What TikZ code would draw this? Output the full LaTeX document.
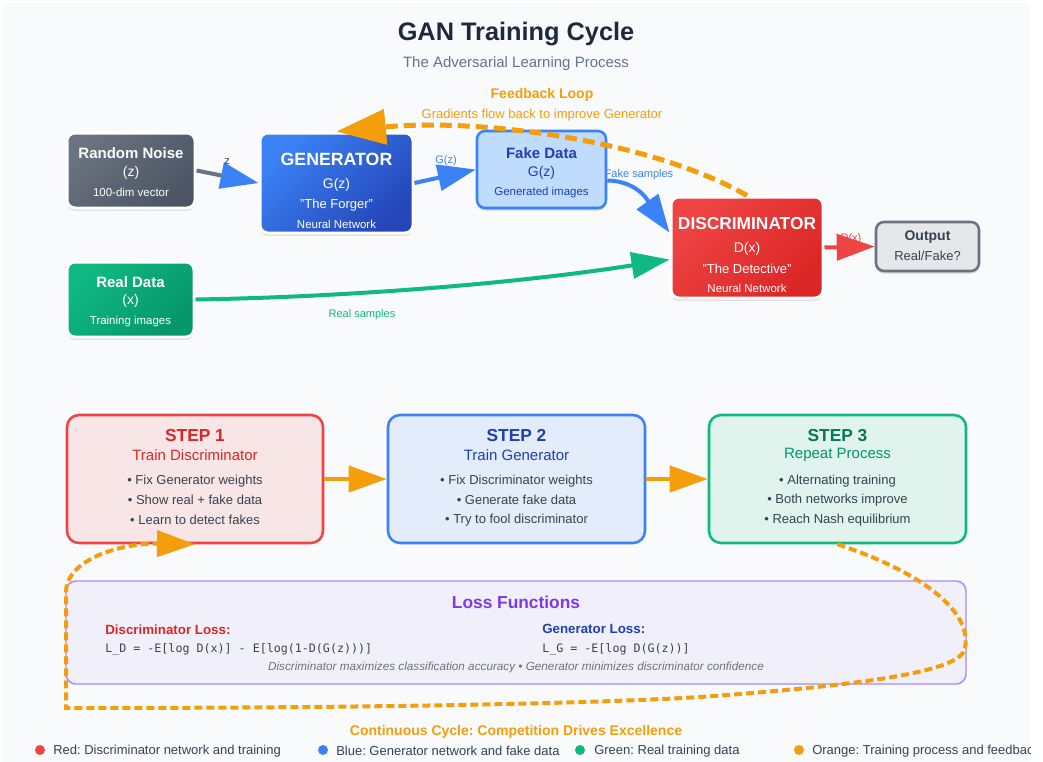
\documentclass[tikz,border=0pt]{standalone}
\usepackage{fontspec}
\setmainfont{Liberation Sans}
\setmonofont{DejaVu Sans Mono}
\usetikzlibrary{arrows.meta,shadows,calc}
\definecolor{cBg}{HTML}{F8FAFC}
\definecolor{cTitle}{HTML}{1E293B}
\definecolor{cSub}{HTML}{64748B}
\definecolor{cNoiseA}{HTML}{6B7280}
\definecolor{cNoiseB}{HTML}{4B5563}
\definecolor{cBlue}{HTML}{3B82F6}
\definecolor{cDBlue}{HTML}{1E40AF}
\definecolor{cGenB}{HTML}{2446B8}
\definecolor{cFake}{HTML}{BFDBFE}
\definecolor{cRed}{HTML}{EF4444}
\definecolor{cDRed}{HTML}{DC2626}
\definecolor{cGreen}{HTML}{10B981}
\definecolor{cDGreen}{HTML}{059669}
\definecolor{cSGreen}{HTML}{047857}
\definecolor{cOrange}{HTML}{F59E0B}
\definecolor{cGray}{HTML}{6B7280}
\definecolor{cOutFill}{HTML}{E5E7EB}
\definecolor{cText}{HTML}{374151}
\definecolor{cS1}{HTML}{F8E6E7}
\definecolor{cS2}{HTML}{E2ECFA}
\definecolor{cS3}{HTML}{E0F3ED}
\definecolor{cLoss}{HTML}{F1F0FA}
\definecolor{cPurple}{HTML}{A78BFA}
\definecolor{cPurpleT}{HTML}{7C3AED}
\newcommand\fz[1]{\fontsize{#1}{#1}\selectfont}
\tikzset{
  txt/.style={inner sep=0pt, anchor=center, yshift=-1pt},
  ltxt/.style={inner sep=0pt, anchor=west, yshift=-1pt},
  shd/.style={drop shadow={shadow xshift=0pt, shadow yshift=-2pt, opacity=0.15, fill=black}},
  wbox/.style={draw=white, line width=2.25pt, rounded corners=6pt, shd},
  cbox/.style={line width=1.9pt, rounded corners=6pt, shd},
  stepbox/.style={line width=1.9pt, rounded corners=9pt},
  conn/.style={line width=3pt},
  tip/.style={-{Triangle[length=28.5pt,width=19.5pt]}},
  bigtip/.style={-{Triangle[length=37pt,width=26pt]}},
  fb/.style={cOrange, line width=3.75pt, dash pattern=on 9pt off 4.5pt},
  cyc/.style={cOrange, line width=3pt, dash pattern=on 6pt off 3pt},
}
\begin{document}
\frenchspacing
\begin{tikzpicture}[x=0.75pt,y=-0.75pt]
\useasboundingbox (0,0) rectangle (1043,761);
\fill[white] (0,0) rectangle (1043,761);
\fill[cBg, rounded corners=6pt] (2,3) rectangle (1030,775);

% title
\node[txt, font=\bfseries\fz{19pt}, text=cTitle] (title) at (516,33) {GAN Training Cycle};
\node[txt, font=\fz{11.25pt}, text=cSub] (subtitle) at (516,62) {The Adversarial Learning Process};
\node[txt, font=\bfseries\fz{10.5pt}, text=cOrange] (fbtitle) at (542,94) {Feedback Loop};
\node[txt, font=\fz{9.75pt}, text=cOrange] (fbsub) at (542,114) {Gradients flow back to improve Generator};

% boxes top
\node[wbox, top color=cNoiseA, bottom color=cNoiseB, shading angle=45, minimum width=96pt, minimum height=56.25pt] (noise) at (131,170.5) {};
\node[wbox, top color=cBlue, bottom color=cGenB, shading angle=45, minimum width=114.75pt, minimum height=75pt] (gen) at (336.5,183) {};
\node[cbox, draw=cBlue, fill=cFake, minimum width=96.75pt, minimum height=57.75pt] (fake) at (541.5,169.5) {};
\node[wbox, top color=cRed, bottom color=cDRed, shading angle=45, minimum width=114pt, minimum height=75.75pt] (disc) at (747,247.5) {};
\node[cbox, draw=cGray, fill=cOutFill, minimum width=77.25pt, minimum height=36.75pt] (out) at (927.5,246.5) {};
\node[wbox, top color=cGreen, bottom color=cDGreen, shading angle=45, minimum width=95.25pt, minimum height=56.25pt] (real) at (130.5,299.5) {};

% steps
\node[stepbox, draw=cRed, fill=cS1, minimum width=192pt, minimum height=96pt] (s1) at (195,479) {};
\node[stepbox, draw=cBlue, fill=cS2, minimum width=192.75pt, minimum height=96pt] (s2) at (516.5,479) {};
\node[stepbox, draw=cGreen, fill=cS3, minimum width=192.75pt, minimum height=96pt] (s3) at (837.5,479) {};

% loss box
\node[draw=cPurple, fill=cLoss, line width=1.1pt, rounded corners=7.5pt, minimum width=675pt, minimum height=77.25pt] (loss) at (516,632.5) {};

% connectors
\draw[conn, cGray, -{Triangle[length=28.5pt,width=19.5pt,color=cBlue,fill=cBlue]}] (noise.east) -- (gen.west);
\draw[conn, cBlue, tip] (gen.east) -- (fake.west);
\draw[conn, cBlue, tip] ($(fake.east)+(0,11)$) .. controls (642,181) and (652,208) .. ($(disc.west)+(0,-15)$);
\draw[conn, cGreen, tip] (real.east) .. controls (350,297) and (520,283) .. ($(disc.west)+(0,12)$);
\draw[conn, cRed, tip] (disc.east) -- (out.west);
\draw[fb, bigtip] (disc.north) .. controls (650,140) and (480,118) .. (gen.north);
\draw[conn, cOrange, tip] (s1.east) -- (s2.west);
\draw[conn, cOrange, tip] (s2.east) -- (s3.west);
\draw[cyc, tip] (s3.south) .. controls (930,575) and (972,615) .. (965,648)
  .. controls (962,670) and (880,684) .. (700,697)
  .. controls (600,703) and (400,708) .. (66,708) -- (66,592)
  .. controls (66,560) and (120,543) .. (s1.south);

% connector labels
\node[txt, font=\fz{8.25pt}, text=cText] (lz) at (227,160) {z};
\node[txt, font=\fz{8.25pt}, text=cBlue] (lgz) at (446,159) {G(z)};
\node[txt, font=\fz{8.25pt}, text=cBlue] (lfs) at (639,173) {Fake samples};
\node[txt, font=\fz{8.25pt}, text=cRed] (ldx) at (851,237) {D(x)};
\node[txt, font=\fz{8.25pt}, text=cGreen] (lrs) at (362,313) {Real samples};

% noise text
\node[txt, font=\bfseries\fz{11.25pt}, text=white] (n1) at (131,152) {Random Noise};
\node[txt, font=\fz{10.5pt}, text=white] (n2) at (131,172) {(z)};
\node[txt, font=\fz{8.6pt}, text=white] (n3) at (131,191) {100-dim vector};
% generator text
\node[txt, font=\bfseries\fz{13.3pt}, text=white] (g1) at (336.5,158) {GENERATOR};
\node[txt, font=\fz{10.5pt}, text=white] (g2) at (336.5,184) {G(z)};
\node[txt, font=\fz{9.75pt}, text=white] (g3) at (336.5,204) {"The Forger"};
\node[txt, font=\fz{8.6pt}, text=white] (g4) at (336.5,223) {Neural Network};
% fake text
\node[txt, font=\bfseries\fz{11.25pt}, text=cDBlue] (f1) at (541.5,152) {Fake Data};
\node[txt, font=\fz{10.5pt}, text=cDBlue] (f2) at (541.5,172) {G(z)};
\node[txt, font=\fz{8.6pt}, text=cDBlue] (f3) at (541.5,191) {Generated images};
% discriminator text
\node[txt, font=\bfseries\fz{13pt}, text=white] (d1) at (747,222) {DISCRIMINATOR};
\node[txt, font=\fz{10.5pt}, text=white] (d2) at (747,248) {D(x)};
\node[txt, font=\fz{9.75pt}, text=white] (d3) at (747,268) {"The Detective"};
\node[txt, font=\fz{8.6pt}, text=white] (d4) at (747,287) {Neural Network};
% output text
\node[txt, font=\bfseries\fz{10.5pt}, text=cText] (o1) at (927.5,236) {Output};
\node[txt, font=\fz{9.75pt}, text=cText] (o2) at (927.5,255) {Real/Fake?};
% real text
\node[txt, font=\bfseries\fz{11.25pt}, text=white] (r1) at (130.5,281) {Real Data};
\node[txt, font=\fz{10.5pt}, text=white] (r2) at (130.5,300) {(x)};
\node[txt, font=\fz{8.6pt}, text=white] (r3) at (130.5,320) {Training images};

% step texts
\node[txt, font=\bfseries\fz{13pt}, text=cDRed] (s1a) at (195,434) {STEP 1};
\node[txt, font=\fz{11.25pt}, text=cDRed] (s1b) at (195,454) {Train Discriminator};
\node[txt, font=\fz{9.75pt}, text=cText] (s1c) at (195,480) {• Fix Generator weights};
\node[txt, font=\fz{9.75pt}, text=cText] (s1d) at (195,499) {• Show real + fake data};
\node[txt, font=\fz{9.75pt}, text=cText] (s1e) at (195,519) {• Learn to detect fakes};

\node[txt, font=\bfseries\fz{13pt}, text=cDBlue] (s2a) at (516.5,434) {STEP 2};
\node[txt, font=\fz{11.25pt}, text=cDBlue] (s2b) at (516.5,454) {Train Generator};
\node[txt, font=\fz{9.75pt}, text=cText] (s2c) at (516.5,480) {• Fix Discriminator weights};
\node[txt, font=\fz{9.75pt}, text=cText] (s2d) at (516.5,499) {• Generate fake data};
\node[txt, font=\fz{9.75pt}, text=cText] (s2e) at (516.5,519) {• Try to fool discriminator};

\node[txt, font=\bfseries\fz{13pt}, text=cSGreen] (s3a) at (837.5,434) {STEP 3};
\node[txt, font=\fz{11.25pt}, text=cDGreen] (s3b) at (837.5,454) {Repeat Process};
\node[txt, font=\fz{9.75pt}, text=cText] (s3c) at (837.5,480) {• Alternating training};
\node[txt, font=\fz{9.75pt}, text=cText] (s3d) at (837.5,499) {• Both networks improve};
\node[txt, font=\fz{9.75pt}, text=cText] (s3e) at (837.5,519) {• Reach Nash equilibrium};

% loss texts
\node[txt, font=\bfseries\fz{13pt}, text=cPurpleT] (l1) at (516,601) {Loss Functions};
\node[ltxt, font=\bfseries\fz{10pt}, text=cDRed] (l2) at (105,628) {Discriminator Loss:};
\node[ltxt, font=\ttfamily\fz{8.75pt}, text=cText] (l3) at (105,648) {L\_D = -E[log D(x)] - E[log(1-D(G(z)))]};
\node[ltxt, font=\bfseries\fz{10pt}, text=cDBlue] (l4) at (542,628) {Generator Loss:};
\node[ltxt, font=\ttfamily\fz{8.75pt}, text=cText] (l5) at (542,648) {L\_G = -E[log D(G(z))]};
\node[txt, font=\itshape\fz{8.8pt}, text=cGray] (l6) at (516,666) {Discriminator maximizes classification accuracy • Generator minimizes discriminator confidence};

% legend
\node[txt, font=\bfseries\fz{10.5pt}, text=cOrange] (cyctitle) at (516,731) {Continuous Cycle: Competition Drives Excellence};
\begin{scope}
\clip (0,0) rectangle (1030,761);
\fill[cRed] (40,750) circle[radius=5];
\node[ltxt, font=\fz{9.75pt}, text=cText] (lg1) at (53,750) {Red: Discriminator network and training};
\fill[cBlue] (323,750) circle[radius=5];
\node[ltxt, font=\fz{9.75pt}, text=cText] (lg2) at (336,750) {Blue: Generator network and fake data};
\fill[cGreen] (580,750) circle[radius=5];
\node[ltxt, font=\fz{9.75pt}, text=cText] (lg3) at (594,750) {Green: Real training data};
\fill[cOrange] (799,750) circle[radius=5];
\node[ltxt, font=\fz{9.75pt}, text=cText] (lg4) at (812,750) {Orange: Training process and feedback};
\end{scope}
\end{tikzpicture}
\end{document}
